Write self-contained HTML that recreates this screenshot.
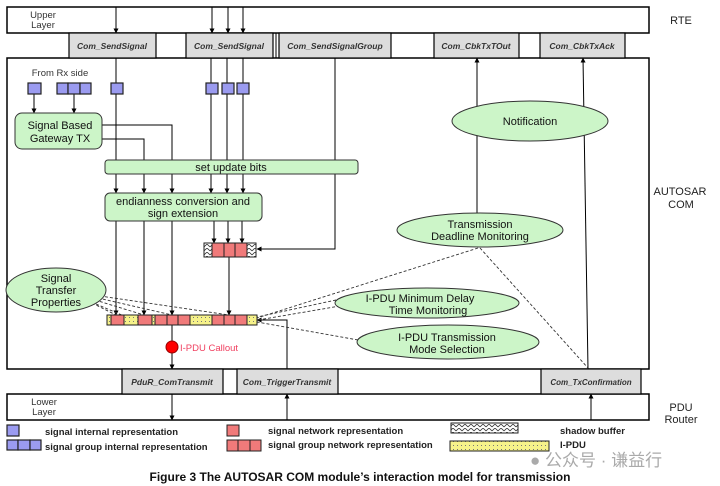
<!DOCTYPE html>
<html><head><meta charset="utf-8"><style>body{margin:0;background:#fff}svg{display:block}text{font-family:"Liberation Sans",Arial,sans-serif}</style></head><body>
<svg width="720" height="486" viewBox="0 0 720 486" xmlns="http://www.w3.org/2000/svg">
<defs>
<marker id="a" viewBox="0 0 10 10" refX="9" refY="5" markerWidth="5" markerHeight="5" orient="auto"><path d="M0 0L10 5L0 10z" fill="#000"/></marker>
<pattern id="dots" width="4" height="4" patternUnits="userSpaceOnUse"><rect width="4" height="4" fill="#f6f28a"/><rect x="1" y="1" width="1" height="1" fill="#777"/></pattern>
<pattern id="zz" width="6" height="4" patternUnits="userSpaceOnUse"><rect width="6" height="4" fill="#fff"/><path d="M0 3L3 0L6 3" fill="none" stroke="#333" stroke-width="0.8"/></pattern>
</defs>
<g stroke="#000" stroke-width="1.5" fill="#fff">
<rect x="7" y="7" width="642" height="26"/>
<rect x="7" y="58" width="642" height="311"/>
<rect x="7" y="394" width="642" height="26"/>
</g>
<g stroke="#000" stroke-width="1.2" fill="#ddd">
<rect x="69" y="33" width="87" height="25"/><rect x="186" y="33" width="87" height="25"/>
<rect x="279" y="33" width="112" height="25"/><rect x="434" y="33" width="85" height="25"/>
<rect x="540" y="33" width="85" height="25"/>
<rect x="122" y="369" width="101" height="25"/><rect x="237" y="369" width="101" height="25"/>
<rect x="541" y="369" width="100" height="25"/>
</g>
<line x1="276" y1="33" x2="276" y2="58" stroke="#000"/>
<g font-size="8.5" font-weight="bold" font-style="italic" fill="#333" text-anchor="middle">
<text x="112" y="49">Com_SendSignal</text><text x="229" y="49">Com_SendSignal</text>
<text x="335" y="49">Com_SendSignalGroup</text><text x="476" y="49">Com_CbkTxTOut</text>
<text x="582" y="49">Com_CbkTxAck</text><text x="172" y="385">PduR_ComTransmit</text>
<text x="287" y="385">Com_TriggerTransmit</text><text x="591" y="385" font-size="8">Com_TxConfirmation</text>
</g>
<g font-size="9.5" fill="#333" text-anchor="middle">
<text x="43" y="18">Upper</text><text x="43" y="28">Layer</text>
<text x="44" y="405">Lower</text><text x="44" y="415">Layer</text>
<text x="60" y="76">From Rx side</text>
</g>
<g font-size="11" fill="#222" text-anchor="middle">
<text x="681" y="24">RTE</text><text x="680" y="195">AUTOSAR</text><text x="681" y="208">COM</text>
<text x="681" y="411">PDU</text><text x="681" y="423">Router</text>
</g>
<g stroke="#000" stroke-width="1" fill="none">
<path d="M116 7V33" marker-end="url(#a)"/><path d="M212 7V33" marker-end="url(#a)"/><path d="M228 7V33" marker-end="url(#a)"/><path d="M243 7V33" marker-end="url(#a)"/>
<path d="M116 58V193" marker-end="url(#a)"/>
<path d="M211 58V193" marker-end="url(#a)"/><path d="M227 58V193" marker-end="url(#a)"/><path d="M243 58V193" marker-end="url(#a)"/>
<path d="M34 93V113" marker-end="url(#a)"/><path d="M74 93V113" marker-end="url(#a)"/>
<path d="M102 125H172V193" marker-end="url(#a)"/><path d="M102 139H144V193" marker-end="url(#a)"/>
<path d="M335 58V249H257" marker-end="url(#a)"/>
<path d="M116 221V315" marker-end="url(#a)"/><path d="M144 221V315" marker-end="url(#a)"/><path d="M172 221V315" marker-end="url(#a)"/>
<path d="M214 221V243" marker-end="url(#a)"/><path d="M228 221V243" marker-end="url(#a)"/><path d="M242 221V243" marker-end="url(#a)"/>
<path d="M229 257V315" marker-end="url(#a)"/>
<path d="M172 325V369" marker-end="url(#a)"/><path d="M172 394V420" marker-end="url(#a)"/>
<path d="M287 420V394" marker-end="url(#a)"/><path d="M287 369V320H257" marker-end="url(#a)"/>
<path d="M591 420V394" marker-end="url(#a)"/><path d="M588 369L583 58" marker-end="url(#a)"/>
<path d="M477 213V58" marker-end="url(#a)"/>
</g>
<g stroke="#333" stroke-width="0.9" fill="none" stroke-dasharray="3,2">
<path d="M478 248L257 318"/><path d="M480 248L588 368"/>
<path d="M92 303L116 315M95 300L144 315M98 298L172 315M100 296L229 315M96 304L124 316"/>
<path d="M336 300L257 317M340 306L258 320"/><path d="M358 340L257 322"/>
</g>
<g fill="#ccf5c8" stroke="#333" stroke-width="1">
<rect x="15" y="113" width="87" height="36" rx="7"/>
<rect x="105" y="160" width="253" height="14" rx="3"/>
<rect x="105" y="193" width="157" height="28" rx="5"/>
<ellipse cx="530" cy="121" rx="78" ry="20"/>
<ellipse cx="480" cy="230" rx="83" ry="17"/>
<ellipse cx="427" cy="303" rx="92" ry="15"/>
<ellipse cx="448" cy="342" rx="91" ry="17"/>
<ellipse cx="56" cy="290" rx="50" ry="22"/>
</g>
<g font-size="11" fill="#111" text-anchor="middle">
<text x="60" y="129">Signal Based</text><text x="60" y="142">Gateway TX</text>
<text x="231" y="171">set update bits</text>
<text x="183" y="205">endianness conversion and</text><text x="183" y="217">sign extension</text>
<text x="530" y="125">Notification</text>
<text x="480" y="228">Transmission</text><text x="480" y="240">Deadline Monitoring</text>
<text x="420" y="302">I-PDU Minimum Delay</text><text x="428" y="314">Time Monitoring</text>
<text x="447" y="341">I-PDU Transmission</text><text x="447" y="353">Mode Selection</text>
<text x="56" y="282">Signal</text><text x="56" y="294">Transfer</text><text x="56" y="306">Properties</text>
</g>
<g stroke="#222" stroke-width="1.2" fill="#9b9bf0">
<rect x="28" y="83" width="13" height="11"/><rect x="57" y="83" width="11" height="11"/><rect x="68" y="83" width="12" height="11"/><rect x="80" y="83" width="11" height="11"/>
<rect x="111" y="83" width="12" height="11"/><rect x="206" y="83" width="12" height="11"/><rect x="222" y="83" width="12" height="11"/><rect x="237" y="83" width="12" height="11"/>
<rect x="7" y="425" width="12" height="11"/><rect x="7" y="440" width="11" height="10"/><rect x="18" y="440" width="12" height="10"/><rect x="30" y="440" width="11" height="10"/>
</g>
<g stroke="#222" stroke-width="1" fill="#f07a7a">
<rect x="204" y="243" width="8" height="14" fill="url(#zz)"/><rect x="247" y="243" width="9" height="14" fill="url(#zz)"/>
<rect x="212" y="243" width="12" height="14"/><rect x="224" y="243" width="11" height="14"/><rect x="235" y="243" width="12" height="14"/>
<rect x="107" y="315" width="150" height="10" fill="url(#dots)"/>
<rect x="111" y="315" width="13" height="10"/><rect x="138" y="315" width="14" height="10"/>
<rect x="155" y="315" width="12" height="10"/><rect x="167" y="315" width="11" height="10"/><rect x="178" y="315" width="12" height="10"/>
<rect x="212" y="315" width="12" height="10"/><rect x="224" y="315" width="11" height="10"/><rect x="235" y="315" width="12" height="10"/>
<rect x="227" y="425" width="12" height="11"/><rect x="227" y="440" width="11" height="11"/><rect x="238" y="440" width="12" height="11"/><rect x="250" y="440" width="11" height="11"/>
<rect x="451" y="423" width="67" height="10" fill="url(#zz)"/>
<rect x="450" y="441" width="99" height="10" fill="url(#dots)"/>
</g>
<circle cx="172" cy="347" r="6" fill="#f00" stroke="#900"/>
<text x="180" y="351" font-size="9.5" fill="#f04060">I-PDU Callout</text>
<g font-size="9.5" font-weight="bold" fill="#222">
<text x="45" y="435">signal internal representation</text>
<text x="45" y="450">signal group internal representation</text>
<text x="268" y="434">signal network representation</text>
<text x="268" y="448">signal group network representation</text>
<text x="560" y="434">shadow buffer</text><text x="560" y="448">I-PDU</text>
</g>
<text x="530" y="466" font-size="17" fill="#aaa" font-family="'Liberation Sans','Noto Sans CJK SC',sans-serif">● 公众号 · 谦益行</text>
<text x="360" y="481" font-size="12" font-weight="bold" fill="#111" text-anchor="middle">Figure 3 The AUTOSAR COM module’s interaction model for transmission</text>
</svg>
</body></html>
